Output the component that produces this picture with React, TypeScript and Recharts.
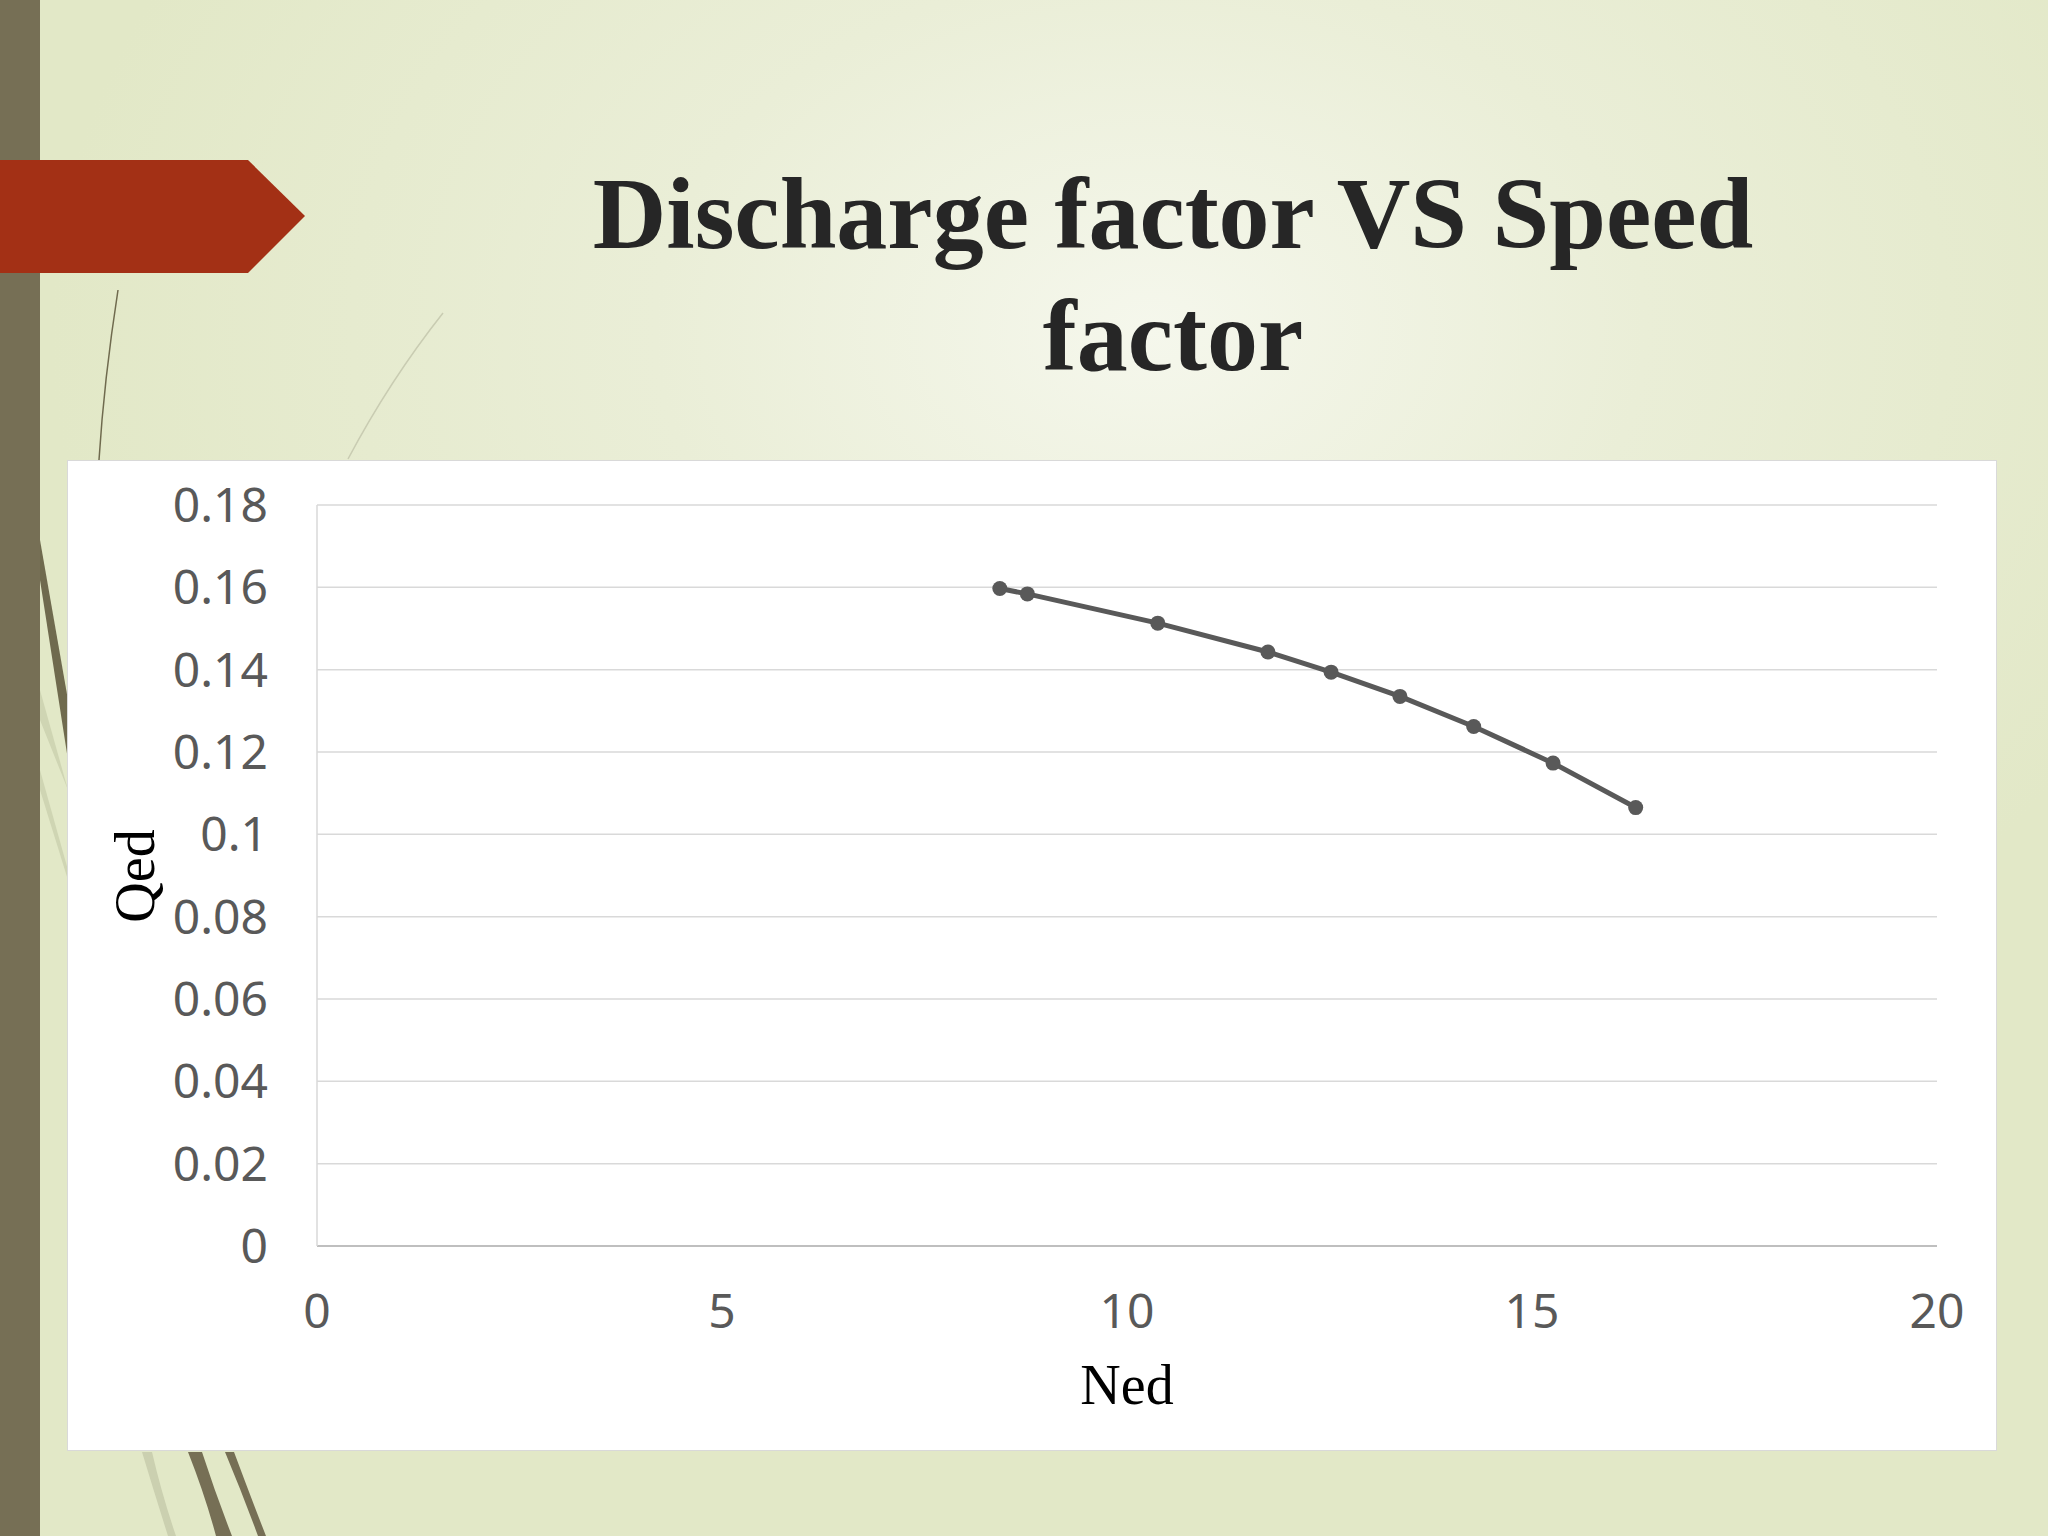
import { LineChart, Line, XAxis, YAxis, CartesianGrid } from 'recharts'

const ned = [8.43, 8.77, 10.38, 11.74, 12.52, 13.37, 14.28, 15.26, 16.28]
const qed = [0.1597, 0.1584, 0.1513, 0.1443, 0.1394, 0.1335, 0.1262, 0.1173, 0.1065]
const xTicks = [0, 5, 10, 15, 20]
const yTicks = [0, 0.02, 0.04, 0.06, 0.08, 0.1, 0.12, 0.14, 0.16, 0.18]

const data = ned.map((x, i) => ({ ned: x, qed: qed[i] }))

const tickStyle = { fontFamily: '"Noto Sans", sans-serif', fontSize: 48, fill: '#595959' }
const serif = '"Liberation Serif", "Times New Roman", serif'

function Decorations() {
  return (
    <svg width={2048} height={1536} style={{ position: 'absolute', left: 0, top: 0 }}>
      <path d="M118 290 Q104 380 99 460" stroke="#6f6a4e" strokeWidth={1.5} fill="none" />
      <path d="M443 313 Q390 380 348 459" stroke="#c9ccb2" strokeWidth={1.5} fill="none" />
      <path d="M40 540 L68 700 L68 760 L40 580 Z" fill="#6f6a4e" />
      <path d="M40 690 L68 790 L68 790 L40 720 Z" fill="#cfd5b3" />
      <path d="M40 770 L68 870 L68 880 L40 790 Z" fill="#cfd5b3" />
      <path d="M142 1452 Q155 1495 168 1536 L176 1536 Q162 1495 152 1452 Z" fill="#cbd0b0" />
      <path d="M188 1452 Q205 1495 216 1536 L232 1536 Q216 1495 202 1452 Z" fill="#766f55" />
      <path d="M225 1452 Q243 1495 258 1536 L266 1536 Q250 1495 234 1452 Z" fill="#766f55" />
    </svg>
  )
}

export default function App() {
  return (
    <div
      style={{
        position: 'absolute',
        left: 0,
        top: 0,
        width: 2048,
        height: 1536,
        overflow: 'hidden',
        background: 'radial-gradient(ellipse 1100px 800px at 1150px 330px, #f5f7ec 0%, #eaeed7 45%, #e2e8c7 100%)',
      }}
    >
      <Decorations />
      <div style={{ position: 'absolute', left: 0, top: 0, width: 40, height: 1536, background: '#766f55' }} />
      <svg width={320} height={120} style={{ position: 'absolute', left: 0, top: 158 }}>
        <path d="M0 2 L248 2 L305 58 L248 115 L0 115 Z" fill="#a33015" />
      </svg>
      <div
        style={{
          position: 'absolute',
          left: 573,
          top: 153,
          width: 1200,
          textAlign: 'center',
          fontFamily: serif,
          fontWeight: 700,
          fontSize: 102,
          lineHeight: '122px',
          color: '#262626',
        }}
      >
        Discharge factor VS Speed factor
      </div>
      <div
        style={{
          position: 'absolute',
          left: 68,
          top: 461,
          width: 1928,
          height: 989,
          background: '#ffffff',
          boxShadow: '0 0 0 1px #d9d9d9',
        }}
      >
        <LineChart width={1928} height={989} data={data} margin={{ top: 44, right: 59, bottom: 104, left: 20 }}>
          <CartesianGrid horizontal vertical={false} stroke="#d9d9d9" strokeWidth={1.5} />
          <XAxis
            dataKey="ned"
            type="number"
            domain={[0, 20]}
            ticks={xTicks}
            height={100}
            tickSize={0}
            tickLine={false}
            tickMargin={48}
            axisLine={{ stroke: '#bfbfbf', strokeWidth: 2 }}
            tick={tickStyle}
          />
          <YAxis
            type="number"
            domain={[0, 0.18]}
            ticks={yTicks}
            width={229}
            tickSize={0}
            tickLine={false}
            tickMargin={49}
            axisLine={{ stroke: '#d9d9d9', strokeWidth: 1.5 }}
            tick={tickStyle}
          />
          <Line
            dataKey="qed"
            type="linear"
            stroke="#595959"
            strokeWidth={5}
            dot={{ r: 7.5, fill: '#595959', stroke: 'none' }}
            isAnimationActive={false}
          />
        </LineChart>
        <div
          style={{
            position: 'absolute',
            left: 67 - 60,
            top: 415 - 30,
            width: 120,
            height: 60,
            lineHeight: '60px',
            textAlign: 'center',
            fontFamily: serif,
            fontSize: 56,
            color: '#000',
            transform: 'rotate(-90deg)',
          }}
        >
          Qed
        </div>
        <div
          style={{
            position: 'absolute',
            left: 1059 - 100,
            top: 892,
            width: 200,
            textAlign: 'center',
            fontFamily: serif,
            fontSize: 56,
            lineHeight: '64px',
            color: '#000',
          }}
        >
          Ned
        </div>
      </div>
    </div>
  )
}
